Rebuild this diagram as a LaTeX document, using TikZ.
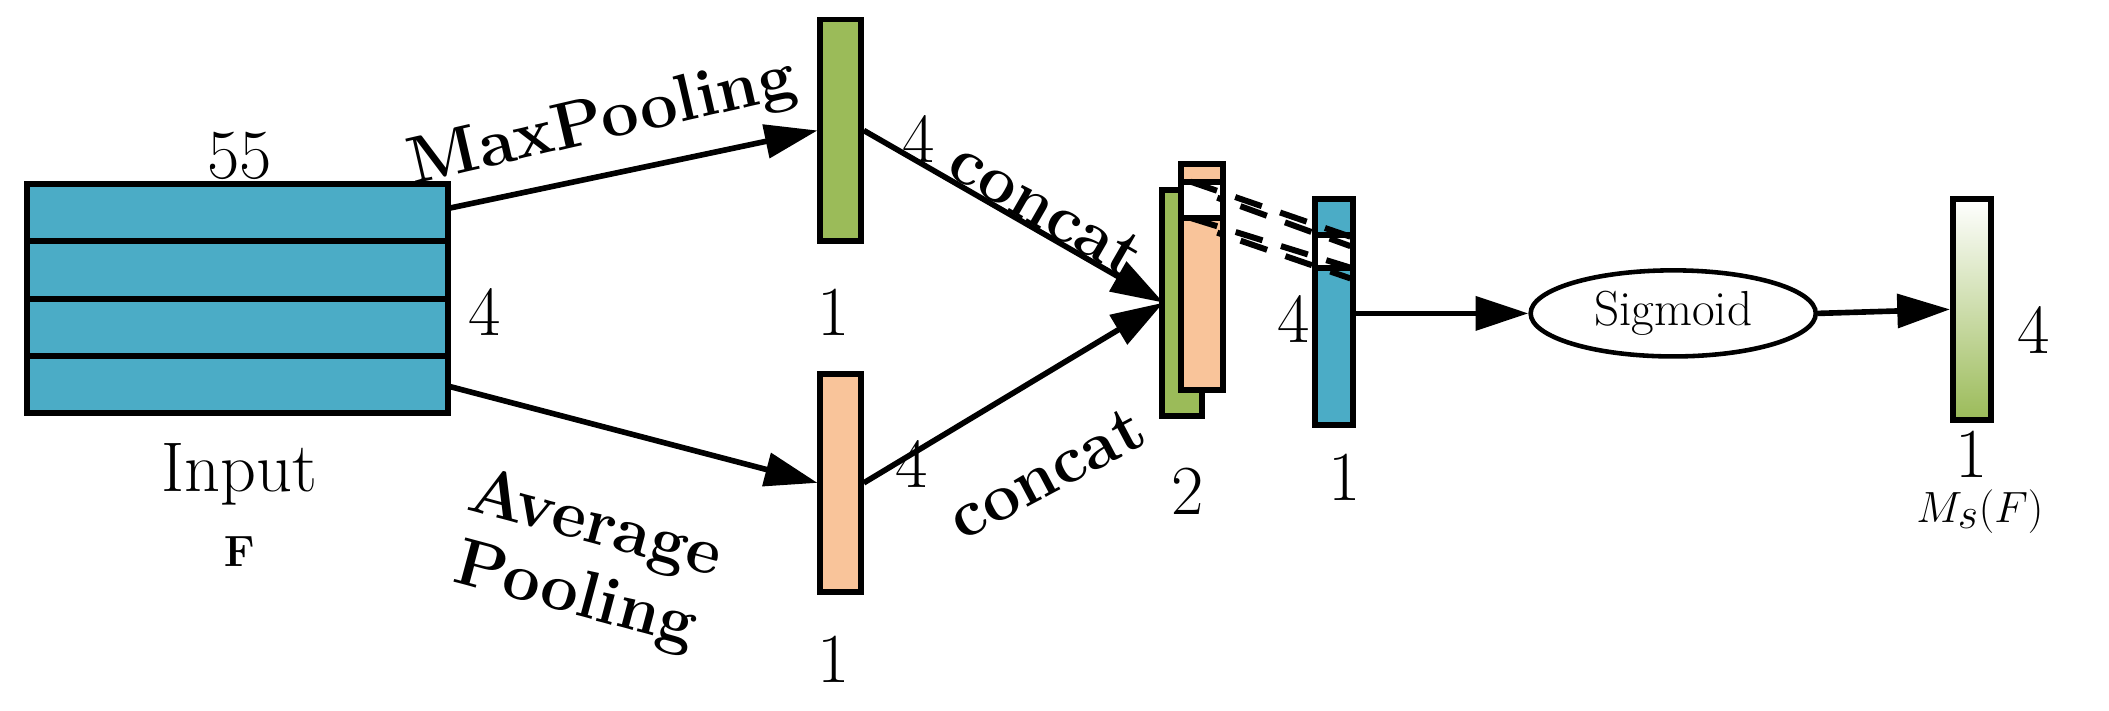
\documentclass[tikz,border=0pt]{standalone}
\usetikzlibrary{arrows.meta,shapes.geometric}
\definecolor{cteal}{HTML}{4BACC6}
\definecolor{cgreen}{HTML}{9BBB59}
\definecolor{corange}{HTML}{F9C49A}
\begin{document}
\begin{tikzpicture}[x=0.0269cm,y=-0.0269cm,
  box/.style={draw,line width=3.4pt,inner sep=0},
  arr/.style={line width=3.2pt,-{Triangle[length=30pt,width=19pt]}},
  lab/.style={font=\fontsize{40}{48}\selectfont},
  blab/.style={font=\fontsize{38}{42}\selectfont\bfseries,align=center},
  dsh/.style={line width=3.4pt,dash pattern=on 16pt off 11pt}]
\useasboundingbox (0,0) rectangle (1568,528);
% input
\node[box,fill=cteal,minimum width=313*0.0269cm,minimum height=170*0.0269cm] (in) at (176.5,222) {};
\draw[line width=3.4pt] (20,179.5)--(333,179.5) (20,222)--(333,222) (20,264.5)--(333,264.5);
\node[lab] (n55) at (178,116) {55};
\node[lab] (n4a) at (360,232) {4};
\node[lab] (inp) at (178,353) {Input};
\node[lab] (F) at (178,410) {$\mathbf{F}$};
% pooled bars
\node[box,fill=cgreen,minimum width=30*0.0269cm,minimum height=165*0.0269cm] (g1) at (625,97) {};
\node[box,fill=corange,minimum width=30*0.0269cm,minimum height=162*0.0269cm] (o1) at (625,359) {};
\node[lab] (g1a) at (620,232) {1};
\node[lab] (g1b) at (683,103) {4};
\node[lab] (o1a) at (620,490) {1};
\node[lab] (o1b) at (678,345) {4};
\coordinate (s1) at (333,155);
\coordinate (s2) at (333,287);
\draw[arr] (s1) -- (g1.west);
\draw[arr] (s2) -- (o1.west);
\node[blab,rotate=13] (mp) at (448,92) {MaxPooling};
\node[blab,rotate=-15] (ap) at (435,418) {Average\\Pooling};
% stack
\node[box,fill=cgreen,minimum width=30*0.0269cm,minimum height=168*0.0269cm] (g2) at (879,225) {};
\node[box,fill=corange,minimum width=31*0.0269cm,minimum height=168*0.0269cm] (o2) at (893.5,206) {};
\draw[line width=3.4pt,fill=white] (878,135) rectangle (909,162);
\coordinate (cj) at (865,225);
\draw[arr] (g1.east) -- (cj);
\draw[arr] (o1.east) -- (cj);
\node[blab,rotate=-30] (c1) at (778,155) {concat};
\node[blab,rotate=28] (c2) at (778,352) {concat};
\node[lab] (n2) at (883,365) {2};
% blue
\node[box,fill=cteal,minimum width=28*0.0269cm,minimum height=168*0.0269cm] (b) at (992,232) {};
\draw[line width=3.4pt,fill=white] (978,175) rectangle (1006,199);
\node[lab] (b1) at (1000,355) {1};
\node[lab] (b4) at (962,237) {4};
\draw[dsh] (885,135) -- (1004,176);
\draw[dsh,dash phase=13pt] (905,147) -- (1004,183);
\draw[dsh] (885,162) -- (1004,199);
\draw[dsh,dash phase=13pt] (905,173) -- (1004,207);
% sigmoid
\node[draw,ellipse,line width=2.6pt,minimum width=212*0.0269cm,minimum height=64*0.0269cm,font=\fontsize{28}{32}\selectfont] (sg) at (1244,233) {Sigmoid};
\draw[arr] (b.east |- sg) -- (sg.west);
\node[box,top color=white,bottom color=cgreen,minimum width=28*0.0269cm,minimum height=164*0.0269cm] (out) at (1466,230) {};
\draw[arr] (sg.east) -- (out.west);
\node[lab] (o4) at (1512,245) {4};
\node[lab] (o1c) at (1466,338) {1};
\node[lab] (ms) at (1472,380) {$M_s(F)$};
\end{tikzpicture}
\end{document}
